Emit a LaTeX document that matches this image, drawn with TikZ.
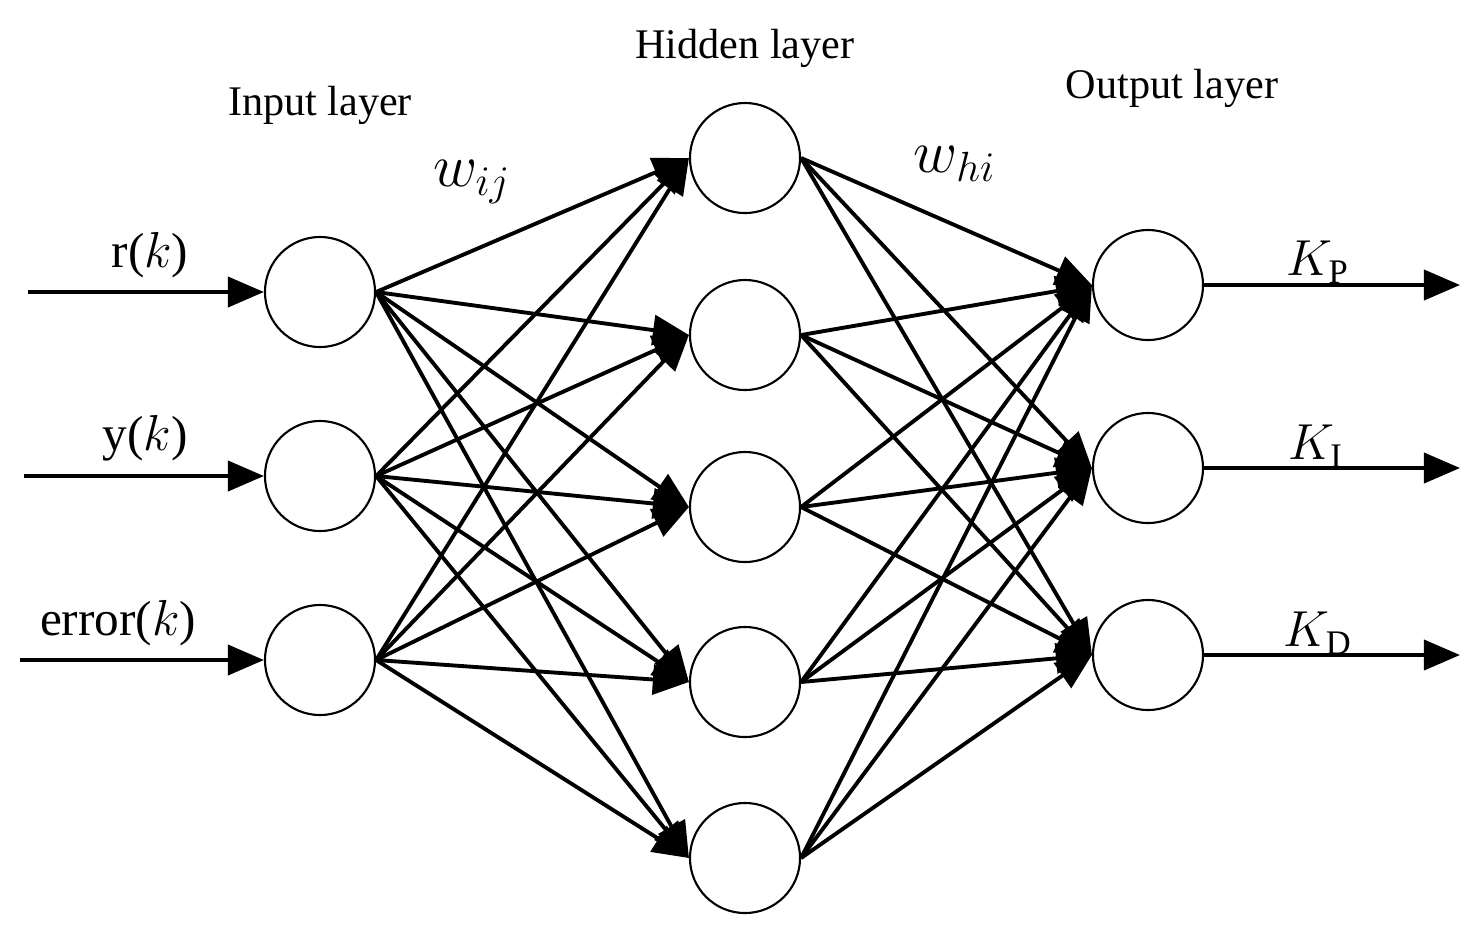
\documentclass[tikz,border=0pt]{standalone}
\usepackage{fontspec}
\setmainfont{Liberation Serif}
\usetikzlibrary{arrows.meta}
\begin{document}
\begin{tikzpicture}[x=0.01cm,y=-0.01cm,
    neuron/.style={draw, circle, minimum size=1.1cm, inner sep=0pt, line width=0.6pt},
    arr/.style={-{Triangle[length=0.36cm,width=0.3cm]}, line width=1.1pt},
    title/.style={font=\fontsize{12}{14}\selectfont},
    sig/.style={font=\fontsize{14}{16}\selectfont}
]
\useasboundingbox (0,0) rectangle (1481,932);
% input layer
\node[neuron] (i1) at (320,292) {};
\node[neuron] (i2) at (320,476) {};
\node[neuron] (i3) at (320,660) {};
% hidden layer
\foreach \n/\y in {1/158,2/335,3/507,4/682,5/858}
  \node[neuron] (h\n) at (745,\y) {};
% output layer
\node[neuron] (o1) at (1148,285) {};
\node[neuron] (o2) at (1148,468) {};
\node[neuron] (o3) at (1148,655) {};
% weights
\foreach \i in {1,2,3}
  \foreach \h in {1,...,5}
    \draw[arr] (i\i.east) -- (h\h.west);
\foreach \h in {1,...,5}
  \foreach \o in {1,2,3}
    \draw[arr] (h\h.east) -- (o\o.west);
% inputs
\coordinate (s1) at (28,292);
\coordinate (s2) at (24,476);
\coordinate (s3) at (20,660);
\draw[arr] (s1) -- (i1.west);
\draw[arr] (s2) -- (i2.west);
\draw[arr] (s3) -- (i3.west);
\node[sig] (l1) at (150,255) {r($k$)};
\node[sig] (l2) at (145,438) {y($k$)};
\node[sig] (l3) at (118,623) {error($k$)};
% outputs
\coordinate (t1) at (1460,285);
\coordinate (t2) at (1460,468);
\coordinate (t3) at (1460,655);
\draw[arr] (o1.east) -- (t1);
\draw[arr] (o2.east) -- (t2);
\draw[arr] (o3.east) -- (t3);
\node[sig] (k1) at (1318,262) {$K_{\mathrm{P}}$};
\node[sig] (k2) at (1316,446) {$K_{\mathrm{I}}$};
\node[sig] (k3) at (1318,633) {$K_{\mathrm{D}}$};
% titles
\node[title] (ti) at (320,105) {Input layer};
\node[title] (th) at (745,48) {Hidden layer};
\node[title] (to) at (1172,88) {Output layer};
\node[font=\fontsize{18}{20}\selectfont] (wij) at (472,182) {$w_{ij}$};
\node[font=\fontsize{18}{20}\selectfont] (whi) at (955,164) {$w_{hi}$};
\end{tikzpicture}
\end{document}
